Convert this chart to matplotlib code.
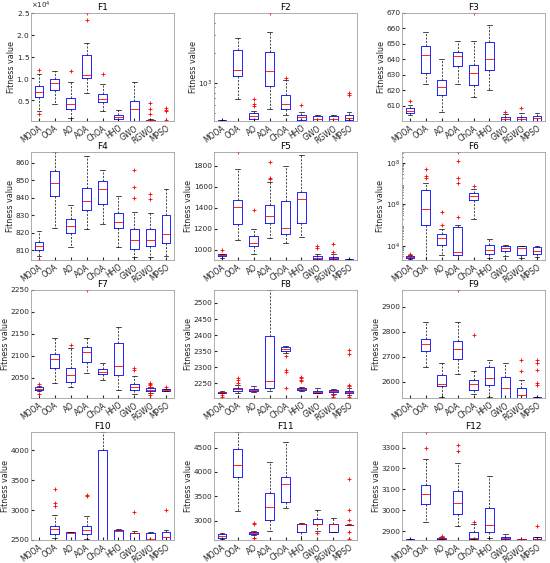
import numpy as np
import matplotlib.pyplot as plt
from matplotlib.ticker import ScalarFormatter, NullFormatter

algos = ['MOOA', 'OOA', 'AO', 'AOA', 'ChOA', 'HHO', 'GWO', 'RGWO', 'MPSO']

# five-number summaries per algorithm: [whisker low, q1, median, q3, whisker high]
F1_stats = [[2500, 5800, 6800, 8200, 11000], [4000, 7300, 9000, 9900, 11700],
            [800, 3000, 4200, 5500, 9200], [6700, 10000, 10800, 15300, 18000],
            [2500, 4600, 5200, 6300, 8600], [300, 600, 1100, 1600, 2700],
            [300, 300, 3000, 4700, 9200], [300, 300, 400, 500, 600],
            [200, 200, 200, 200, 200]]
F1_out = [[12000, 1800], [], [11700], [23300, 25000], [11000], [], [],
          [4400, 3000, 1700], [3300, 2800, 2400, 500]]

F2_stats = [[415, 417, 419, 421, 425], [687, 1175, 1339, 2121, 2840],
            [418, 433, 464, 494, 521], [546, 940, 1318, 2028, 3209],
            [475, 546, 612, 753, 1063], [418, 423, 457, 482, 509],
            [418, 418, 437, 461, 482], [418, 418, 433, 461, 482],
            [418, 423, 447, 475, 505]]
F2_out = [[], [], [697, 621, 585], [5012], [1131], [598], [], [], [794, 753]]

F3_stats = [[604, 605.5, 607, 608.5, 610.5], [624, 631.5, 643, 649, 658],
            [606, 617, 622, 627, 640], [624.5, 636, 642, 645, 652],
            [615.5, 623.5, 631.5, 636.5, 652], [620.5, 633, 640, 651, 662],
            [600.3, 600.5, 601.5, 603, 604.5], [600.3, 600.5, 601.5, 603, 605.5],
            [600.3, 600.5, 602, 603.5, 605.5]]
F3_out = [[613], [], [], [], [670], [], [606], [609], []]

F4_stats = [[807, 810, 812.5, 815, 821], [823, 841, 848.5, 855, 866],
            [812, 820, 824, 828, 836], [822, 833, 838, 845.5, 863.5],
            [825, 836.5, 845, 849.5, 856], [812, 823, 826, 831, 841],
            [806, 811, 816, 822, 832], [806, 812.5, 816, 822, 831],
            [807, 814, 819.5, 830, 845]]
F4_out = [[804.5], [], [], [], [], [], [840, 846, 856], [839.5, 842], []]

F5_stats = [[920, 935, 945, 955, 960], [1095, 1245, 1410, 1470, 1770],
            [955, 1035, 1060, 1130, 1200], [1110, 1255, 1320, 1420, 1640],
            [1060, 1150, 1205, 1460, 1800], [1115, 1255, 1480, 1545, 1905],
            [900, 905, 920, 935, 960], [900, 905, 915, 930, 960],
            [900, 900, 902, 905, 908]]
F5_out = [[995], [1930], [1375], [1670, 1680, 1835], [], [], [1015, 1035],
          [980, 1050], []]

F6_stats = [[2240, 2500, 2700, 3020, 3500], [2000, 94600, 615000, 5.0e6, 1.15e7],
            [3380, 10700, 23600, 38500, 65000], [2100, 3640, 5100, 81600, 1.0e5],
            [2.0e5, 1.6e6, 2.6e6, 3.7e6, 5.4e6], [2600, 4070, 6400, 11200, 21000],
            [3000, 5300, 7400, 9300, 10700], [2400, 3640, 7400, 9300, 9600],
            [2800, 3920, 5700, 8600, 9300]]
F6_out = [[4070], [1.9e7, 2.4e7, 5.1e7], [1.0e5, 4.4e5], [2.4e5, 1.15e7, 2.0e7, 1.3e8, 3.5e8],
          [7.8e6], [], [], [], []]

F7_stats = [[2021, 2022.5, 2025, 2028, 2031], [2038, 2073, 2092, 2104, 2140],
            [2028, 2040, 2056, 2073, 2117], [2060, 2086, 2108, 2121, 2140],
            [2044, 2058, 2063, 2069, 2083], [2022, 2057, 2076, 2130, 2165],
            [2012, 2023, 2030, 2035, 2055], [2015, 2020, 2023, 2026, 2028],
            [2019, 2021, 2022, 2023.5, 2025]]
F7_out = [[2035, 2013], [], [2125], [2250], [], [], [2068, 2072],
          [2030, 2033, 2036, 2038, 2010, 2004], [2030]]

F8_stats = [[2220, 2222, 2224, 2225, 2226], [2222, 2228, 2233, 2236, 2245],
            [2225, 2228, 2230, 2233, 2243], [2226, 2236, 2258, 2398, 2540],
            [2345, 2352, 2358, 2362, 2365], [2226, 2229, 2232, 2236, 2240],
            [2219, 2222, 2225, 2228, 2235], [2218, 2223, 2226, 2229, 2232],
            [2214, 2220, 2224, 2228, 2236]]
F8_out = [[2213, 2208], [2250, 2262, 2268], [], [], [2336, 2293, 2286, 2237],
          [2259, 2262, 2266, 2271], [], [2214, 2209, 2206],
          [2241, 2244, 2342, 2353, 2208, 2205]]

F9_stats = [[2534, 2534.5, 2535, 2535.5, 2536], [2660, 2723, 2749, 2772, 2838],
            [2540, 2584, 2592, 2627, 2675], [2630, 2691, 2730, 2763, 2840],
            [2550, 2568, 2592, 2605, 2643], [2538, 2585, 2613, 2657, 2688],
            [2535, 2535, 2573, 2617, 2676], [2535, 2535, 2548, 2575, 2605],
            [2535, 2535, 2536, 2537, 2538]]
F9_out = [[], [], [], [2966], [2786], [], [], [2643, 2685],
          [2587, 2593, 2646, 2675, 2685]]

F10_stats = [[2500, 2500.5, 2501, 2501.5, 2502], [2536, 2602, 2690, 2740, 2923],
             [2505, 2505, 2620, 2630, 2640], [2510, 2602, 2668, 2740, 2895],
             [2500, 2505, 2508, 4000, 4304], [2505, 2505, 2646, 2668, 2690],
             [2505, 2505, 2615, 2625, 2657], [2505, 2505, 2510, 2615, 2630],
             [2505, 2505, 2552, 2635, 2660]]
F10_out = [[], [3072, 3116, 3348], [], [3240, 3255], [], [], [2975], [], [2995]]

F11_stats = [[2627, 2650, 2680, 2728, 2750], [3200, 3890, 4140, 4480, 4820],
             [2700, 2725, 2745, 2760, 2780], [2780, 3020, 3280, 3560, 4200],
             [3250, 3380, 3750, 3890, 4610], [2600, 2760, 2930, 2935, 2940],
             [2776, 2930, 2935, 3040, 3220], [2760, 2760, 2920, 2930, 3060],
             [2905, 2905, 2910, 2915, 2920]]
F11_out = [[], [], [2930, 2950, 2650, 2640], [], [], [], [2740, 2610], [],
           [3850, 3220, 3010, 2760, 2620]]

F12_stats = [[2857, 2858, 2859, 2860, 2861], [2945, 3030, 3080, 3120, 3245],
             [2860, 2862, 2866, 2868, 2870], [2922, 2982, 3033, 3090, 3225],
             [2860, 2864, 2866, 2895, 2935], [2865, 2895, 2928, 3010, 3165],
             [2858, 2860, 2865, 2872, 2886], [2857, 2858, 2860, 2862, 2864],
             [2858, 2860, 2864, 2869, 2870]]
F12_out = [[], [3300, 3375], [2875], [3285, 3315], [2945], [], [], [], [2925]]

panels = [('F1', F1_stats, F1_out, 'lin'), ('F2', F2_stats, F2_out, 'log'),
          ('F3', F3_stats, F3_out, 'lin'), ('F4', F4_stats, F4_out, 'lin'),
          ('F5', F5_stats, F5_out, 'lin'), ('F6', F6_stats, F6_out, 'log'),
          ('F7', F7_stats, F7_out, 'lin'), ('F8', F8_stats, F8_out, 'lin'),
          ('F9', F9_stats, F9_out, 'lin'), ('F10', F10_stats, F10_out, 'lin'),
          ('F11', F11_stats, F11_out, 'lin'), ('F12', F12_stats, F12_out, 'lin')]

W, H = 550, 563
fig = plt.figure(figsize=(5.5, 5.63), dpi=100)
lefts = [31, 214, 402]
tops = [13, 152, 290, 432]
aw, ah = 143, 108
gray = '#262626'

for k, (name, stats, outs, scale) in enumerate(panels):
    r, c = divmod(k, 3)
    ax = fig.add_axes([lefts[c] / W, 1 - (tops[r] + ah) / H, aw / W, ah / H])
    bxp_stats = []
    for s, o in zip(stats, outs):
        bxp_stats.append(dict(whislo=s[0], q1=s[1], med=s[2], q3=s[3],
                              whishi=s[4], fliers=o))
    ax.bxp(bxp_stats, widths=0.55, capwidths=0.3, showfliers=True,
           boxprops=dict(color='blue', lw=0.6),
           medianprops=dict(color='red', lw=0.6),
           whiskerprops=dict(color='black', lw=0.5, ls=(0, (3, 2))),
           capprops=dict(color='black', lw=0.5),
           flierprops=dict(marker='+', markeredgecolor='red', markersize=3,
                           markeredgewidth=0.6, ls='none'))
    allv = [v for s in stats for v in s] + [v for o in outs for v in o]
    lo, hi = min(allv), max(allv)
    if scale == 'log':
        ax.set_yscale('log')
        ax.set_ylim(lo, hi)
        if name == 'F6':
            ax.set_yticks([1e4, 1e6, 1e8])
        ax.yaxis.set_minor_formatter(NullFormatter())
    else:
        ax.set_ylim(lo, hi)
    ax.set_xlim(0.5, 9.5)
    ax.set_xticks(range(1, 10))
    ax.set_xticklabels(algos, rotation=35, ha='right', rotation_mode='anchor',
                       fontsize=5.5, color=gray)
    ax.tick_params(axis='y', labelsize=5.3, colors=gray, direction='in',
                   length=2, pad=1)
    ax.tick_params(axis='x', direction='in', length=2, colors=gray, pad=2)
    ax.tick_params(which='minor', direction='in', length=1)
    for sp in ax.spines.values():
        sp.set_color('#a0a0a0')
        sp.set_linewidth(0.6)
    ax.set_title(name, fontsize=6.5, pad=2)
    ax.set_ylabel('Fitness value', fontsize=5.8, labelpad=0.5, color=gray)
    if name == 'F1':
        fmt = ScalarFormatter(useMathText=True)
        fmt.set_powerlimits((0, 0))
        ax.yaxis.set_major_formatter(fmt)
        ax.set_yticks([5000, 10000, 15000, 20000, 25000])
        ax.yaxis.get_offset_text().set_fontsize(5)
        ax.yaxis.get_offset_text().set_color(gray)

fig.savefig('out.png', dpi=100)
